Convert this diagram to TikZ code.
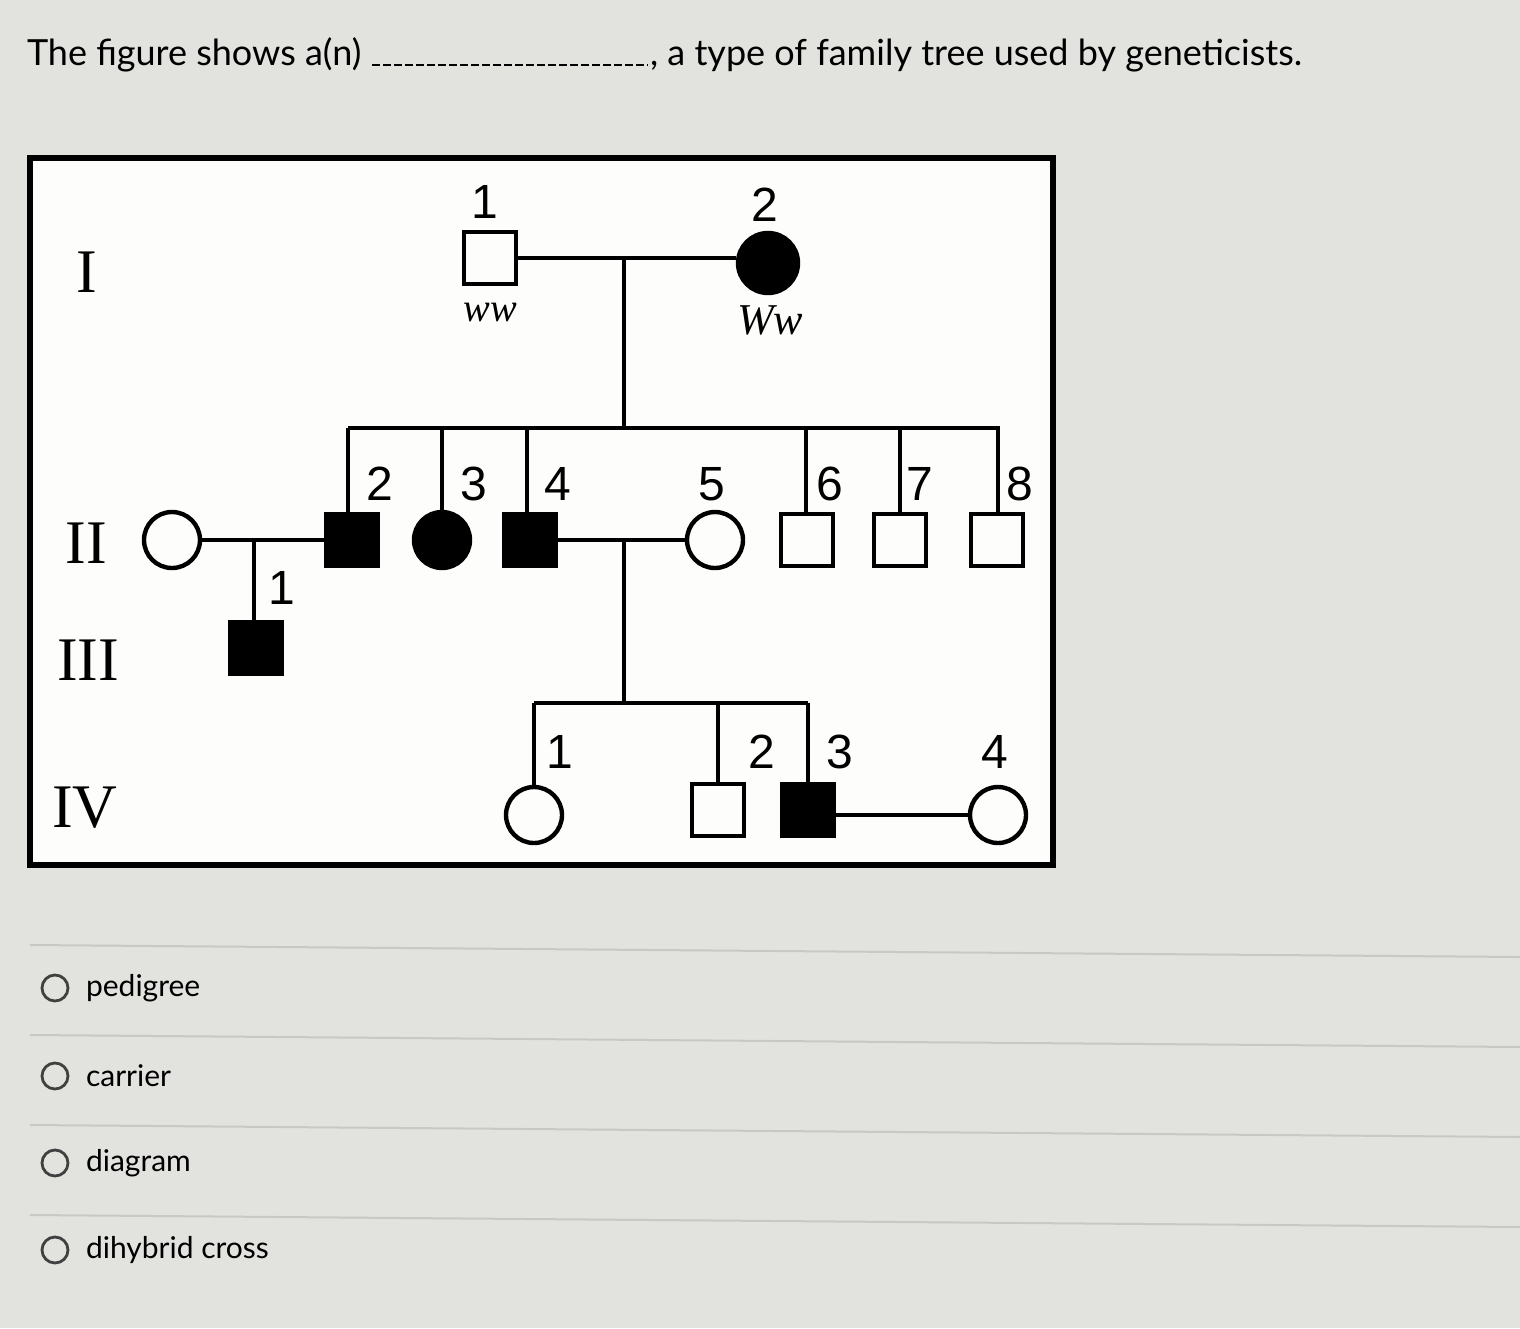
\documentclass[tikz,border=0pt]{standalone}
\usepackage{fontspec}
\setmainfont{Liberation Serif}
\setsansfont{Lato}
\newfontfamily\numfont{Liberation Sans}
\usetikzlibrary{positioning}
\definecolor{paper}{RGB}{226,226,223}
\definecolor{rule}{RGB}{200,200,198}
\begin{document}
\begin{tikzpicture}[x=0.5pt,y=-0.5pt,line width=2pt,
sq/.style={draw,rectangle,minimum size=26pt,inner sep=0pt,line width=2.2pt},
ci/.style={draw,circle,minimum size=28pt,inner sep=0pt,line width=2.2pt},
aff/.style={fill=black},
num/.style={font=\numfont\fontsize{24}{28}\selectfont},
gen/.style={font=\fontsize{31}{36}\selectfont},
opt/.style={font=\sffamily\fontsize{15}{18}\selectfont,anchor=west},
radio/.style={draw=black!75,circle,minimum size=13pt,inner sep=0pt,line width=1.4pt}]
\useasboundingbox (0,0) rectangle (1520,1328);
\fill[paper] (0,0) rectangle (1520,1328);
\node[anchor=base west,font=\sffamily\fontsize{18}{22}\selectfont,inner sep=0pt] (q1) at (25,65)
  {The figure shows a(n)};
\node[anchor=base west,font=\sffamily\fontsize{18}{22}\selectfont,inner sep=0pt] (q2) at (648,65)
  {, a type of family tree used by geneticists.};
\draw[line width=1pt,dash pattern=on 4pt off 1.5pt] (372,65) -- (q2.base west);
\draw[line width=3pt,fill=white!92!paper] (30,158) rectangle (1053,865);
% generation labels
\node[gen] (gI) at (87,272) {I};
\node[gen] (gII) at (86,543) {II};
\node[gen] (gIII) at (88,660) {III};
\node[gen] (gIV) at (85,808) {IV};
% generation I
\node[sq] (i1) at (490,258) {};
\node[ci,aff,minimum size=30pt] (i2) at (768,263) {};
\node[num] at (485,202) {1};
\node[num] at (765,205) {2};
\node[font=\itshape\fontsize{20}{24}\selectfont] at (490,313) {ww};
\node[font=\itshape\fontsize{22}{26}\selectfont] at (770,320) {Ww};
\draw (i1.east) -- (i2.west |- i1.east);
\coordinate (m1) at (624,258);
\coordinate (s1) at (624,428);
\draw (m1) -- (s1);
\draw (348,428) -- (1000,428);
% generation II
\node[ci] (ii1) at (172,540) {};
\node[sq,aff] (ii2) at (352,540) {};
\node[ci,aff] (ii3) at (442,540) {};
\node[sq,aff] (ii4) at (530,540) {};
\node[ci] (ii5) at (715,540) {};
\node[sq] (ii6) at (807,540) {};
\node[sq] (ii7) at (900,540) {};
\node[sq] (ii8) at (997,540) {};
\foreach \n/\x in {ii2/348,ii3/442,ii4/527,ii6/806,ii7/900,ii8/998}
  \draw (\x,428) -- (\x,0 |- \n.north);
\foreach \t/\x in {2/380,3/474,4/558,5/712,6/830,7/920,8/1020}
  \node[num] at (\x,484) {\t};
\draw (ii1.east) -- (ii2.west);
\draw (ii4.east) -- (ii5.west);
% generation III
\node[sq,aff] (iii1) at (256,648) {};
\node[num] at (282,588) {1};
\draw (254,540) -- (254,0 |- iii1.north);
% generation IV
\draw (624,540) -- (624,703);
\draw (534,703) -- (808,703);
\node[ci] (iv1) at (534,815) {};
\node[sq] (iv2) at (718,810) {};
\node[sq,aff] (iv3) at (808,810) {};
\node[ci] (iv4) at (998,815) {};
\foreach \n/\x in {iv1/534,iv2/718,iv3/808}
  \draw (\x,703) -- (\x,0 |- \n.north);
\foreach \t/\x in {1/560,2/762,3/840,4/995}
  \node[num] at (\x,752) {\t};
\draw (iv3.east |- iv4.west) -- (iv4.west);
% answer options
\foreach \y in {945,1035,1125,1215}
  \draw[rule,line width=1pt] (30,\y) -- (1520,\y+12);
\foreach \t/\y in {pedigree/988,carrier/1076,diagram/1163,dihybrid cross/1250}{
  \node[radio] (r\y) at (55,\y) {};
  \node[opt,right=4pt of r\y] {\t};}
\end{tikzpicture}
\end{document}
